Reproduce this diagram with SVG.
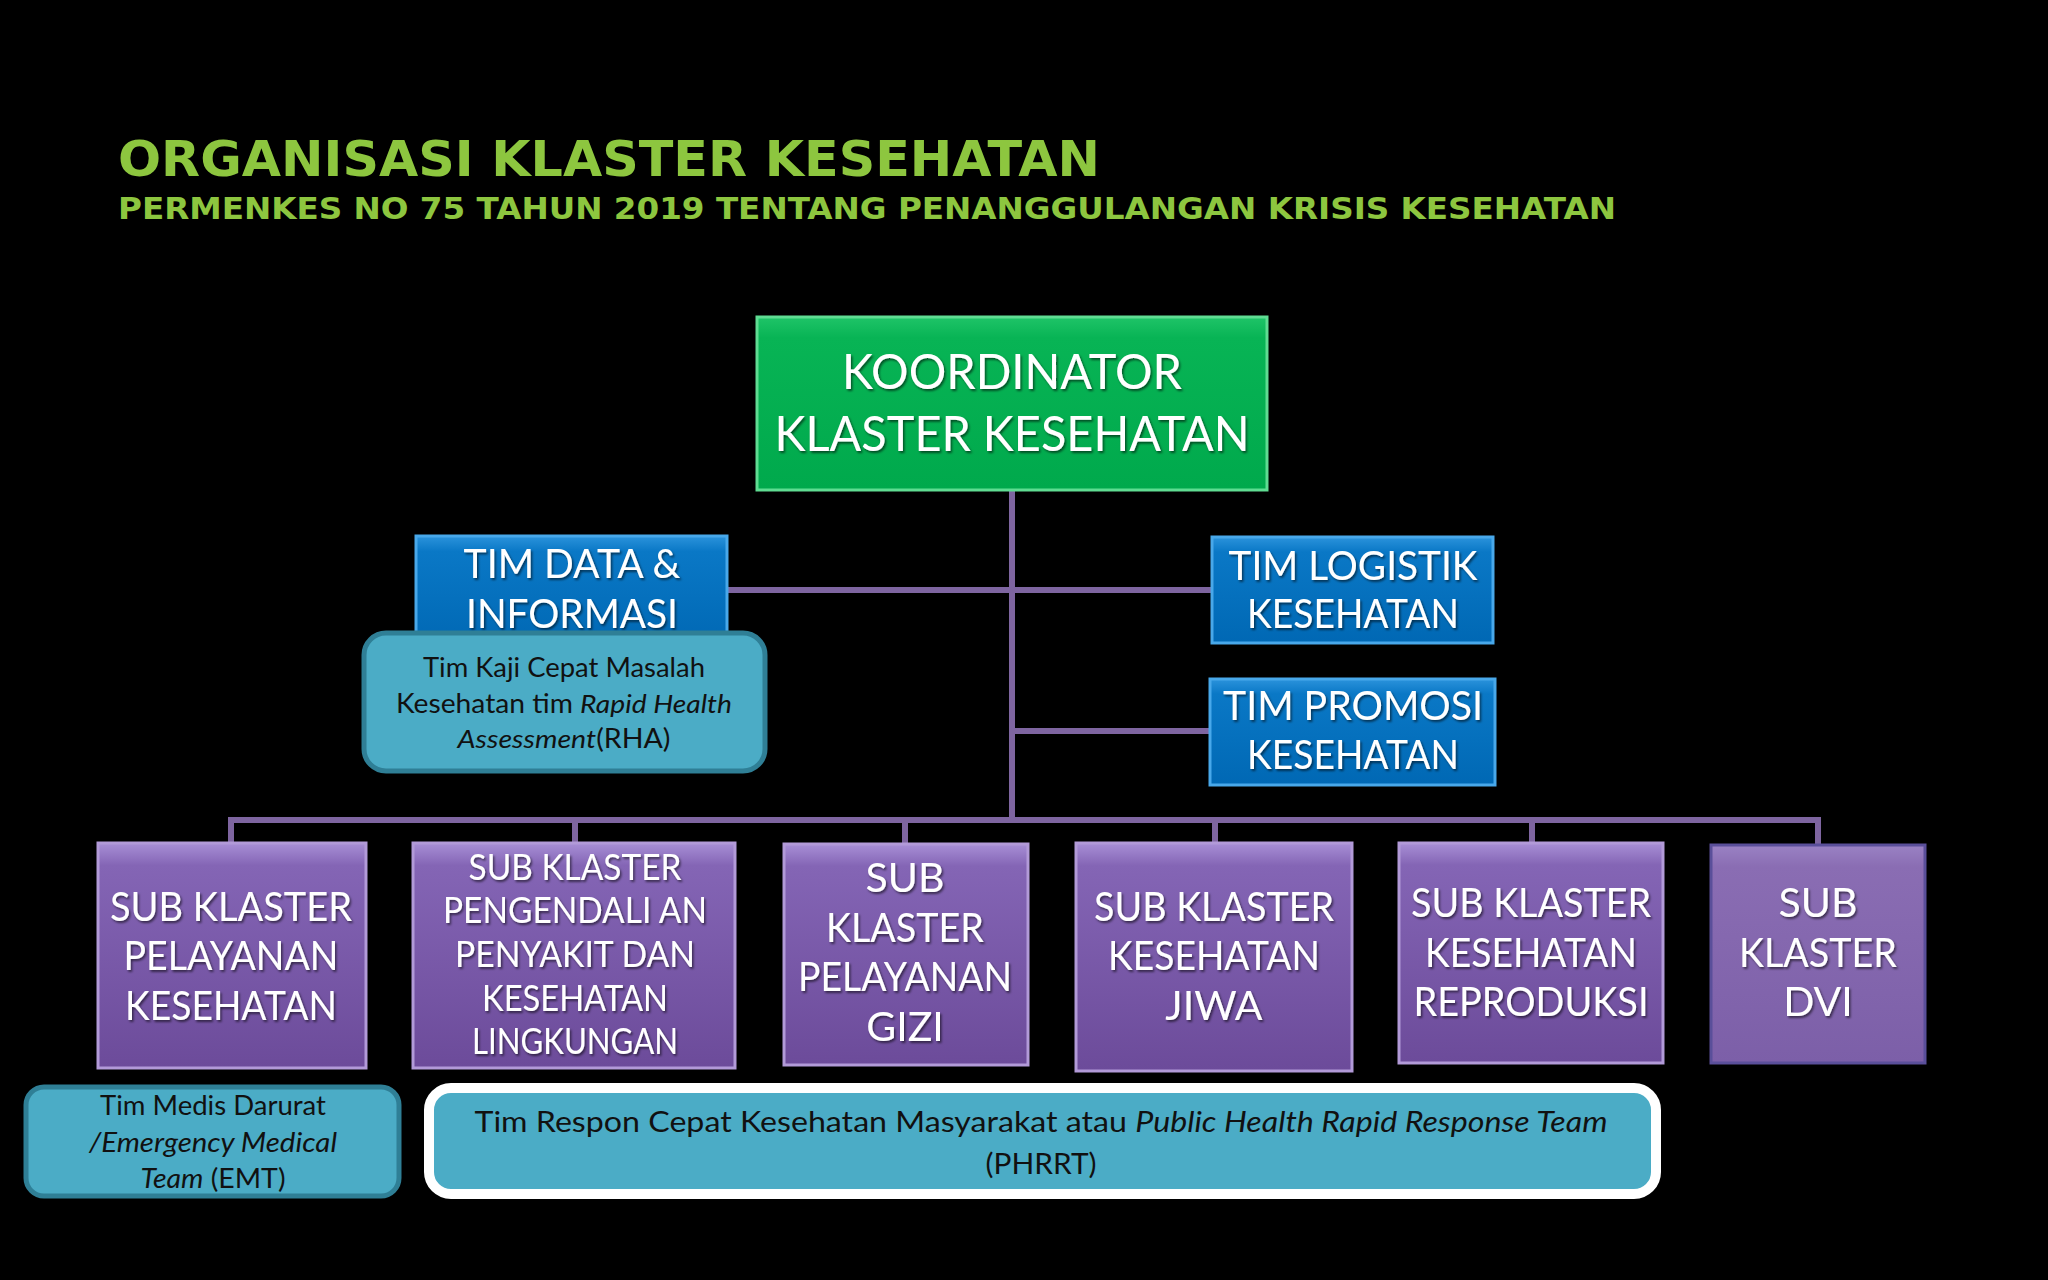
<svg xmlns="http://www.w3.org/2000/svg" width="2048" height="1280" viewBox="0 0 2048 1280">
<defs>
<linearGradient id="gGreen" x1="0" y1="0" x2="0" y2="1"><stop offset="0" stop-color="#1fc468"/><stop offset="0.12" stop-color="#08b455"/><stop offset="1" stop-color="#00a94c"/></linearGradient>
<linearGradient id="gBlue" x1="0" y1="0" x2="0" y2="1"><stop offset="0" stop-color="#2b93dc"/><stop offset="0.14" stop-color="#0a78c6"/><stop offset="1" stop-color="#0068b4"/></linearGradient>
<linearGradient id="gPurple" x1="0" y1="0" x2="0" y2="1"><stop offset="0" stop-color="#a88fd6"/><stop offset="0.1" stop-color="#8465b5"/><stop offset="1" stop-color="#6c4b9a"/></linearGradient>
<linearGradient id="gPurple2" x1="0" y1="0" x2="0" y2="1"><stop offset="0" stop-color="#9a82c4"/><stop offset="0.1" stop-color="#8a6db3"/><stop offset="1" stop-color="#7c5fa8"/></linearGradient>
<filter id="ts" x="-10%" y="-20%" width="120%" height="140%"><feDropShadow dx="1.5" dy="2" stdDeviation="1.2" flood-color="#000" flood-opacity="0.55"/></filter>
</defs>
<style>
.title{font-family:"DejaVu Sans",Verdana,sans-serif;font-weight:bold;fill:#8dc63f}
.w{font-family:Lato,"Open Sans",sans-serif;fill:#ffffff;text-anchor:middle;filter:url(#ts)}
.k{font-family:Lato,"Open Sans",sans-serif;fill:#111;text-anchor:middle}
.conn{stroke:#7e65a0;stroke-width:6;fill:none}
.green{fill:url(#gGreen);stroke:#5fdc92;stroke-width:3}
.blue{fill:url(#gBlue);stroke:#48a8ea;stroke-width:3}
.purple{fill:url(#gPurple);stroke:#b29ad8;stroke-width:3}
.teal{fill:#4bacc6;stroke:#2f7f96;stroke-width:5}
.tealw{fill:#4bacc6;stroke:#ffffff;stroke-width:10}
</style>
<rect width="2048" height="1280" fill="#000"/>
<text class="title" x="118" y="176" font-size="50" textLength="982" lengthAdjust="spacingAndGlyphs">ORGANISASI KLASTER KESEHATAN</text>
<text class="title" x="118" y="219" font-size="31" textLength="1498" lengthAdjust="spacingAndGlyphs">PERMENKES NO 75 TAHUN 2019 TENTANG PENANGGULANGAN KRISIS KESEHATAN</text>

<g id="connectors">
<line class="conn" x1="1012" y1="490" x2="1012" y2="820"/>
<line class="conn" x1="726" y1="590" x2="1212" y2="590"/>
<line class="conn" x1="1012" y1="731" x2="1209" y2="731"/>
<line class="conn" x1="231" y1="820" x2="1818" y2="820"/>
<line class="conn" x1="231" y1="817" x2="231" y2="843"/>
<line class="conn" x1="575" y1="817" x2="575" y2="843"/>
<line class="conn" x1="905" y1="817" x2="905" y2="845"/>
<line class="conn" x1="1215" y1="817" x2="1215" y2="843"/>
<line class="conn" x1="1532" y1="817" x2="1532" y2="843"/>
<line class="conn" x1="1818" y1="817" x2="1818" y2="845"/>
</g>

<g id="koordinator">
<rect class="green" x="757" y="317" width="510" height="173"/>
<text class="w" x="1012" y="389" font-size="48" textLength="340" lengthAdjust="spacingAndGlyphs">KOORDINATOR</text>
<text class="w" x="1012" y="451" font-size="48" textLength="475" lengthAdjust="spacingAndGlyphs">KLASTER KESEHATAN</text>
</g>

<g id="tim-data">
<rect class="blue" x="416" y="536" width="311" height="110"/>
<text class="w" x="572" y="578" font-size="41" textLength="217" lengthAdjust="spacingAndGlyphs">TIM DATA &amp;</text>
<text class="w" x="572" y="628" font-size="41" textLength="212" lengthAdjust="spacingAndGlyphs">INFORMASI</text>
</g>

<g id="tim-rha">
<rect class="teal" x="364" y="633" width="401" height="138" rx="22"/>
<text class="k" x="564" y="677" font-size="26" textLength="282" lengthAdjust="spacingAndGlyphs">Tim Kaji Cepat Masalah</text>
<text class="k" x="564" y="713" font-size="26" textLength="336" lengthAdjust="spacingAndGlyphs">Kesehatan tim <tspan font-style="italic">Rapid Health</tspan></text>
<text class="k" x="564" y="748" font-size="26" textLength="213" lengthAdjust="spacingAndGlyphs"><tspan font-style="italic">Assessment</tspan>(RHA)</text>
</g>

<g id="tim-logistik">
<rect class="blue" x="1212" y="537" width="281" height="106"/>
<text class="w" x="1353" y="580" font-size="41" textLength="249" lengthAdjust="spacingAndGlyphs">TIM LOGISTIK</text>
<text class="w" x="1353" y="628" font-size="41" textLength="212" lengthAdjust="spacingAndGlyphs">KESEHATAN</text>
</g>

<g id="tim-promosi">
<rect class="blue" x="1210" y="679" width="285" height="106"/>
<text class="w" x="1353" y="720" font-size="41" textLength="260" lengthAdjust="spacingAndGlyphs">TIM PROMOSI</text>
<text class="w" x="1353" y="769" font-size="41" textLength="212" lengthAdjust="spacingAndGlyphs">KESEHATAN</text>
</g>

<g id="sub-pelayanan-kesehatan">
<rect class="purple" x="98" y="843" width="268" height="225"/>
<text class="w" x="231" y="921" font-size="41" textLength="242" lengthAdjust="spacingAndGlyphs">SUB KLASTER</text>
<text class="w" x="231" y="970" font-size="41" textLength="215" lengthAdjust="spacingAndGlyphs">PELAYANAN</text>
<text class="w" x="231" y="1020" font-size="41" textLength="212" lengthAdjust="spacingAndGlyphs">KESEHATAN</text>
</g>

<g id="sub-pengendalian">
<rect class="purple" x="413" y="843" width="322" height="225"/>
<text class="w" x="575" y="880" font-size="36" textLength="213" lengthAdjust="spacingAndGlyphs">SUB KLASTER</text>
<text class="w" x="575" y="923" font-size="36" textLength="264" lengthAdjust="spacingAndGlyphs">PENGENDALI AN</text>
<text class="w" x="575" y="967" font-size="36" textLength="240" lengthAdjust="spacingAndGlyphs">PENYAKIT DAN</text>
<text class="w" x="575" y="1011" font-size="36" textLength="186" lengthAdjust="spacingAndGlyphs">KESEHATAN</text>
<text class="w" x="575" y="1054" font-size="36" textLength="206" lengthAdjust="spacingAndGlyphs">LINGKUNGAN</text>
</g>

<g id="sub-gizi">
<rect class="purple" x="784" y="844" width="244" height="221"/>
<text class="w" x="905" y="892" font-size="41">SUB</text>
<text class="w" x="905" y="942" font-size="41" textLength="158" lengthAdjust="spacingAndGlyphs">KLASTER</text>
<text class="w" x="905" y="991" font-size="41" textLength="214" lengthAdjust="spacingAndGlyphs">PELAYANAN</text>
<text class="w" x="905" y="1041" font-size="41">GIZI</text>
</g>

<g id="sub-jiwa">
<rect class="purple" x="1076" y="843" width="276" height="228"/>
<text class="w" x="1214" y="921" font-size="41" textLength="240" lengthAdjust="spacingAndGlyphs">SUB KLASTER</text>
<text class="w" x="1214" y="970" font-size="41" textLength="212" lengthAdjust="spacingAndGlyphs">KESEHATAN</text>
<text class="w" x="1214" y="1020" font-size="41">JIWA</text>
</g>

<g id="sub-reproduksi">
<rect class="purple" x="1399" y="843" width="264" height="220"/>
<text class="w" x="1531" y="917" font-size="41" textLength="240" lengthAdjust="spacingAndGlyphs">SUB KLASTER</text>
<text class="w" x="1531" y="967" font-size="41" textLength="212" lengthAdjust="spacingAndGlyphs">KESEHATAN</text>
<text class="w" x="1531" y="1016" font-size="41" textLength="235" lengthAdjust="spacingAndGlyphs">REPRODUKSI</text>
</g>

<g id="sub-dvi">
<rect x="1711" y="845" width="214" height="218" fill="url(#gPurple2)" stroke="#5a4f9a" stroke-width="3"/>
<text class="w" x="1818" y="917" font-size="41">SUB</text>
<text class="w" x="1818" y="967" font-size="41" textLength="158" lengthAdjust="spacingAndGlyphs">KLASTER</text>
<text class="w" x="1818" y="1016" font-size="41">DVI</text>
</g>

<g id="tim-emt">
<rect class="teal" x="26" y="1087" width="373" height="109" rx="18"/>
<text class="k" x="213" y="1115" font-size="27" textLength="226" lengthAdjust="spacingAndGlyphs">Tim Medis Darurat</text>
<text class="k" x="213" y="1152" font-size="27" font-style="italic" textLength="248" lengthAdjust="spacingAndGlyphs">/Emergency Medical</text>
<text class="k" x="213" y="1188" font-size="27" textLength="145" lengthAdjust="spacingAndGlyphs"><tspan font-style="italic">Team</tspan> (EMT)</text>
</g>

<g id="tim-phrrt">
<rect class="tealw" x="429" y="1088" width="1227" height="106" rx="22"/>
<text class="k" x="1041" y="1132" font-size="28" textLength="1133" lengthAdjust="spacingAndGlyphs">Tim Respon Cepat Kesehatan Masyarakat atau <tspan font-style="italic">Public Health Rapid Response Team</tspan></text>
<text class="k" x="1041" y="1174" font-size="28" textLength="111" lengthAdjust="spacingAndGlyphs">(PHRRT)</text>
</g>
</svg>
